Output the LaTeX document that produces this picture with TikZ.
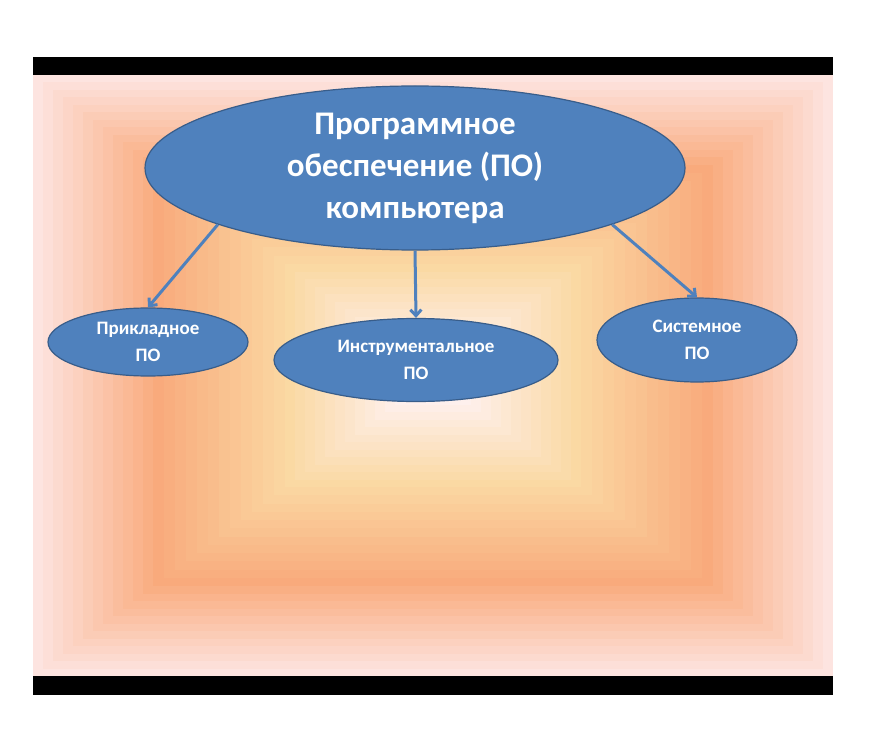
\documentclass[tikz,border=0pt]{standalone}
\usepackage{fontspec}
\setmainfont{Carlito}
\usetikzlibrary{shapes.geometric,arrows.meta}
\definecolor{edgepink}{HTML}{FDE4E0}
\definecolor{midorange}{HTML}{F9AA7C}
\definecolor{midyellow}{HTML}{FAD9A3}
\definecolor{centerpink}{HTML}{FFF2F4}
\definecolor{ovalblue}{HTML}{4F81BD}
\definecolor{ovalline}{HTML}{385D8A}
\tikzset{
  oval/.style={ellipse, draw=ovalline, line width=1.2pt, fill=ovalblue, inner sep=0pt,
    text=white, align=center, font=\bfseries},
  link/.style={draw=ovalblue, line width=3pt, -{Straight Barb[length=6pt,width=11pt]}}
}
\begin{document}
\begin{tikzpicture}[x=1pt,y=-1pt]
\useasboundingbox (0,0) rectangle (872,735);
% background
\fill[edgepink] (33,75) rectangle (833,676);
\foreach \i in {0,...,11}{
  \pgfmathsetmacro\m{\i*100/12}
  \pgfmathsetmacro\s{\i*10}
  \fill[midorange!\m!edgepink] (33+\s,75+\s*0.75) rectangle (833-\s,676-\s*0.75);
}
\foreach \i in {0,...,11}{
  \pgfmathsetmacro\m{\i*100/12}
  \pgfmathsetmacro\s{120+\i*11}
  \fill[midyellow!\m!midorange] (33+\s,75+\s*0.75) rectangle (833-\s,676-\s*0.75);
}
\foreach \i in {0,...,11}{
  \pgfmathsetmacro\m{\i*100/12}
  \pgfmathsetmacro\s{252+\i*10}
  \fill[centerpink!\m!midyellow] (33+\s,75+\s*0.75) rectangle (833-\s,676-\s*0.75);
}
\fill[black] (33,57) rectangle (833,75);
\fill[black] (33,676) rectangle (833,695);
% ovals
\node (main) at (415,168) [oval, minimum width=540pt, minimum height=164pt, font=\bfseries\fontsize{33}{42}\selectfont]
  {Программное\\обеспечение (ПО)\\компьютера};
\node (app) at (148,342) [oval, minimum width=200pt, minimum height=68pt, font=\bfseries\fontsize{19}{27}\selectfont]
  {Прикладное\\ПО};
\node (tool) at (416,360) [oval, minimum width=284pt, minimum height=83pt, font=\bfseries\fontsize{19}{27}\selectfont]
  {Инструментальное\\ПО};
\node (sys) at (697,340) [oval, minimum width=200pt, minimum height=84pt, font=\bfseries\fontsize{19}{27}\selectfont]
  {Системное\\ПО};
% arrows
\draw[link] (main.196) -- (app.north);
\draw[link] (main.south) -- (tool.north);
\draw[link] (main.344) -- (sys.north);
\end{tikzpicture}
\end{document}
